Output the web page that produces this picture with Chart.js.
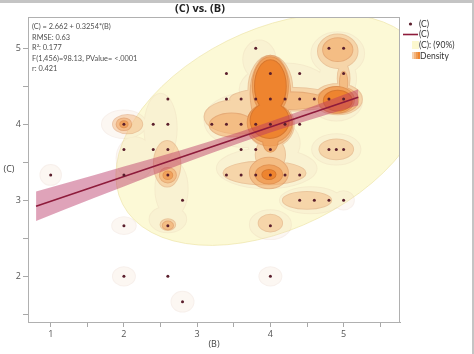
<!DOCTYPE html>
<html>
<head>
<meta charset="utf-8">
<script src="https://cdn.jsdelivr.net/npm/chart.js@4"></script>
<style>
  html, body { margin: 0; padding: 0; background: #fff; }
  #wrap { position: relative; width: 474px; height: 354px; }
</style>
</head>
<body>
<div id="wrap"><canvas id="chart" width="474" height="354"></canvas></div>
<script>
// scatter points, (B) and (C)
const pointsB = [3.8, 4.8, 5,
  3.4, 4, 4.4, 5,
  2.6, 3.4, 3.6, 3.8, 4, 4.2, 4.4, 4.6, 4.8, 5,
  2, 2.4, 2.6, 3.2, 3.4, 3.6, 3.8, 4, 4.2, 4.4,
  2, 2.4, 2.6, 3.6, 3.8, 4, 4.8, 4.9, 5,
  1, 2, 2.6, 3.4, 3.6, 3.8, 4, 4.2, 4.4,
  2.8, 4.4, 4.6, 4.8, 5,
  2, 2.6, 4,
  2, 2.6, 4,
  2.8];
const pointsC = [5, 5, 5,
  4.667, 4.667, 4.667, 4.667,
  4.333, 4.333, 4.333, 4.333, 4.333, 4.333, 4.333, 4.333, 4.333, 4.333,
  4, 4, 4, 4, 4, 4, 4, 4, 4, 4,
  3.667, 3.667, 3.667, 3.667, 3.667, 3.667, 3.667, 3.667, 3.667,
  3.333, 3.333, 3.333, 3.333, 3.333, 3.333, 3.333, 3.333, 3.333,
  3, 3, 3, 3, 3,
  2.667, 2.667, 2.667,
  2, 2, 2,
  1.667];

// linear fit and its confidence band
const fitB = [0.8, 5.2];
const fitC = [2.922, 4.354];
const bandB = [0.8, 1.2, 1.6, 2.0, 2.4, 2.8, 3.2, 3.6, 4.0, 4.4, 4.8, 5.2];
const bandUpper = [3.117, 3.225, 3.333, 3.443, 3.553, 3.665, 3.783, 3.905, 4.036, 4.172, 4.314, 4.459];
const bandLower = [2.727, 2.881, 3.033, 3.183, 3.333, 3.481, 3.623, 3.761, 3.892, 4.016, 4.134, 4.249];

// 90% density ellipse: centre and two conjugate semi-axes (data units)
const ellipseCenter = [4.03, 3.93];
const ellipseAxisA = [2.14, 0.6];
const ellipseAxisB = [0, -1.4];

// density contours, lightest to darkest: [B, C, radiusB, radiusC]
const density1 = [
  [1, 3.333, 0.14, 0.13], [2, 2.667, 0.16, 0.11], [2, 2, 0.15, 0.12], [4, 2, 0.15, 0.12],
  [2.8, 1.667, 0.15, 0.13], [5, 3, 0.14, 0.12], [4.55, 3, 0.42, 0.17], [4, 2.68, 0.28, 0.19],
  [2.0, 4.0, 0.3, 0.18], [2.5, 3.95, 0.22, 0.45], [2.15, 3.55, 0.25, 0.28], [2.65, 3.15, 0.22, 0.38],
  [2.6, 2.75, 0.25, 0.17], [3.65, 4.05, 0.55, 0.35], [4.2, 4.45, 0.62, 0.35], [3.85, 4.85, 0.22, 0.25],
  [4.92, 4.93, 0.36, 0.28], [4.92, 4.6, 0.25, 0.3], [4.9, 4.3, 0.35, 0.25], [3.95, 3.42, 0.68, 0.26],
  [4.05, 3.75, 0.35, 0.3], [4.9, 3.67, 0.33, 0.2]
];
const density2 = [
  [2.05, 4.0, 0.2, 0.12], [2.59, 3.48, 0.18, 0.3], [2.6, 2.68, 0.1, 0.07],
  [3.55, 4.1, 0.45, 0.22], [4.2, 4.33, 0.75, 0.15], [4.0, 4.45, 0.3, 0.45], [4.0, 4.0, 0.32, 0.3],
  [4.92, 4.33, 0.33, 0.2], [5.0, 4.6, 0.08, 0.2], [4.92, 4.96, 0.27, 0.22],
  [3.92, 3.36, 0.56, 0.15], [4.0, 3.6, 0.2, 0.22], [4.5, 3.0, 0.33, 0.11], [4.9, 3.67, 0.23, 0.13],
  [4.0, 2.7, 0.16, 0.11]
];
const density3 = [
  [2.0, 4.0, 0.1, 0.077], [2.6, 3.33, 0.11, 0.095], [2.6, 2.67, 0.07, 0.05],
  [3.47, 3.99, 0.3, 0.15], [4.25, 4.31, 0.5, 0.11], [4.0, 4.4, 0.27, 0.5], [3.99, 4.0, 0.31, 0.28],
  [4.92, 4.32, 0.28, 0.17], [5.0, 4.55, 0.05, 0.14], [4.92, 4.98, 0.2, 0.15],
  [3.98, 3.36, 0.26, 0.2]
];
const density4 = [
  [2.0, 4.0, 0.05, 0.04], [2.6, 3.33, 0.06, 0.05],
  [4.0, 4.5, 0.24, 0.38], [3.99, 4.02, 0.3, 0.26], [4.0, 3.78, 0.1, 0.14],
  [4.9, 4.32, 0.24, 0.17], [3.98, 3.34, 0.18, 0.12]
];
const density5 = [
  [4.0, 4.5, 0.21, 0.34], [3.99, 4.05, 0.26, 0.23], [4.92, 4.31, 0.19, 0.13], [3.98, 3.34, 0.09, 0.06]
];
const densityLevels = [density1, density2, density3, density4, density5];
const levelFill = ['#f0d8c4', '#f4b880', '#f2a866', '#ef8f3f', '#ec7a20'];
const levelLine = ['#dcbba6', '#dc9a68', '#d98a50', '#d77a35', '#d06a20'];
const levelAlpha = [0.22, 0.5, 0.55, 0.6, 0.75];

const xTickVals = [1, 1.5, 2, 2.5, 3, 3.5, 4, 4.5, 5, 5.5];
const yTickVals = [1.5, 2, 2.5, 3, 3.5, 4, 4.5, 5];

const statLines = ['(C) = 2.662 + 0.3254*(B)', 'RMSE: 0.63', 'R²: 0.177', 'F(1,456)=98.13, PValue= <.0001', 'r: 0.421'];

const FONT = '"Open Sans", "Noto Sans", sans-serif';
const SMALL = 'Lato, "Open Sans", sans-serif';

const backdrop = {
  id: 'backdrop',
  beforeDatasetsDraw(chart) {
    const { ctx, chartArea: a, scales: { x, y } } = chart;
    ctx.save();
    ctx.beginPath();
    ctx.rect(a.left, a.top, a.width, a.height);
    ctx.clip();

    // ellipse
    const cx = x.getPixelForValue(ellipseCenter[0]);
    const cy = y.getPixelForValue(ellipseCenter[1]);
    const ax = x.getPixelForValue(ellipseCenter[0] + ellipseAxisA[0]) - cx;
    const ay = y.getPixelForValue(ellipseCenter[1] + ellipseAxisA[1]) - cy;
    const bx = x.getPixelForValue(ellipseCenter[0] + ellipseAxisB[0]) - cx;
    const by = y.getPixelForValue(ellipseCenter[1] + ellipseAxisB[1]) - cy;
    ctx.save();
    ctx.transform(ax, ay, bx, by, cx, cy);
    ctx.beginPath();
    ctx.arc(0, 0, 1, 0, Math.PI * 2);
    ctx.restore();
    ctx.fillStyle = 'rgba(250,244,180,0.55)';
    ctx.fill();
    ctx.strokeStyle = 'rgba(235,225,160,0.6)';
    ctx.lineWidth = 1;
    ctx.stroke();

    // density levels, each one as a union drawn off screen
    const off = document.createElement('canvas');
    off.width = chart.width;
    off.height = chart.height;
    const o = off.getContext('2d');
    const kx = Math.abs(x.getPixelForValue(1) - x.getPixelForValue(0));
    const ky = Math.abs(y.getPixelForValue(1) - y.getPixelForValue(0));
    densityLevels.forEach((blobs, i) => {
      o.clearRect(0, 0, off.width, off.height);
      o.beginPath();
      blobs.forEach(b => {
        const px = x.getPixelForValue(b[0]), py = y.getPixelForValue(b[1]);
        o.moveTo(px + b[2] * kx, py);
        o.ellipse(px, py, b[2] * kx, b[3] * ky, 0, 0, Math.PI * 2);
      });
      o.lineWidth = 2;
      o.strokeStyle = levelLine[i];
      o.stroke();
      o.fillStyle = levelFill[i];
      o.fill();
      ctx.globalAlpha = levelAlpha[i];
      ctx.drawImage(off, 0, 0, chart.width, chart.height);
      ctx.globalAlpha = 1;
    });
    ctx.restore();
  },
  afterDraw(chart) {
    const { ctx, chartArea: a } = chart;
    ctx.save();
    // plot frame
    ctx.strokeStyle = '#b0b0b0';
    ctx.lineWidth = 1;
    ctx.strokeRect(a.left + 0.5, a.top + 0.5, a.width - 1, a.height);

    ctx.fillStyle = '#222';
    ctx.font = 'bold 11px ' + FONT;
    ctx.textAlign = 'center';
    ctx.textBaseline = 'middle';
    ctx.fillText('(C) vs. (B)', 200, 9);

    ctx.font = '9px ' + FONT;
    ctx.fillStyle = '#444';
    ctx.fillText('(B)', (a.left + a.right) / 2, 344);
    ctx.fillText('(C)', 9, (a.top + a.bottom) / 2);

    // statistics
    ctx.textAlign = 'left';
    ctx.font = '7.4px ' + SMALL;
    ctx.fillStyle = '#505050';
    statLines.forEach((s, i) => ctx.fillText(s, 32, 26.7 + i * 10.5));

    // legend
    ctx.font = '8.5px ' + SMALL;
    ctx.fillStyle = '#5a1e2c';
    ctx.beginPath();
    ctx.arc(410.5, 24, 1.6, 0, Math.PI * 2);
    ctx.fill();
    ctx.strokeStyle = '#8e1b3b';
    ctx.lineWidth = 1.6;
    ctx.beginPath();
    ctx.moveTo(403, 34.5);
    ctx.lineTo(418, 34.5);
    ctx.stroke();
    ctx.fillStyle = '#fcf8cf';
    ctx.fillRect(412, 41, 7, 8);
    const sw = ['#f6d2b0', '#f3b47c', '#f09a50', '#ee8530'];
    sw.forEach((c, i) => { ctx.fillStyle = c; ctx.fillRect(412 + i * 2, 52, 2, 7); });
    ctx.fillStyle = '#333';
    ctx.fillText('(C)', 419, 24);
    ctx.fillText('(C)', 419, 34.5);
    ctx.fillText('(C): (90%)', 419, 45);
    ctx.fillText('Density', 420, 56);

    // window border
    ctx.fillStyle = '#c4c4c4';
    ctx.fillRect(0, 0, chart.width, 3);
    ctx.fillRect(chart.width - 2, 0, 2, chart.height);
    ctx.restore();
  }
};

new Chart(document.getElementById('chart').getContext('2d'), {
  type: 'scatter',
  data: {
    datasets: [
      {
        label: '(C)',
        data: pointsB.map((b, i) => ({ x: b, y: pointsC[i] })),
        pointRadius: 1.5,
        pointBackgroundColor: '#5a1e2c',
        pointBorderWidth: 0
      },
      {
        type: 'line',
        label: 'fit',
        data: fitB.map((b, i) => ({ x: b, y: fitC[i] })),
        borderColor: '#8e1b3b',
        borderWidth: 1.6,
        pointRadius: 0,
        fill: false
      },
      {
        type: 'line',
        label: 'upper',
        data: bandB.map((b, i) => ({ x: b, y: bandUpper[i] })),
        borderWidth: 0,
        borderColor: 'rgba(0,0,0,0)',
        pointRadius: 0,
        fill: false
      },
      {
        type: 'line',
        label: 'lower',
        data: bandB.map((b, i) => ({ x: b, y: bandLower[i] })),
        borderWidth: 0,
        borderColor: 'rgba(0,0,0,0)',
        pointRadius: 0,
        fill: '-1',
        backgroundColor: 'rgba(185,50,100,0.45)'
      }
    ]
  },
  options: {
    responsive: false,
    animation: false,
    events: [],
    layout: { padding: { top: 17, right: 74, left: 0, bottom: 0 } },
    plugins: { legend: { display: false }, tooltip: { enabled: false } },
    scales: {
      x: {
        type: 'linear',
        min: 0.69,
        max: 5.77,
        afterBuildTicks: s => { s.ticks = xTickVals.map(v => ({ value: v })); },
        afterFit: s => { s.height = 32; },
        ticks: {
          callback: v => Number.isInteger(v) ? String(v) : '',
          autoSkip: false, maxRotation: 0, padding: 2,
          color: '#555', font: { family: FONT, size: 9 }
        },
        grid: { drawOnChartArea: false, tickLength: 5, color: '#a8a8a8' },
        border: { color: '#a8a8a8' }
      },
      y: {
        type: 'linear',
        min: 1.4,
        max: 5.41,
        afterBuildTicks: s => { s.ticks = yTickVals.map(v => ({ value: v })); },
        afterFit: s => { s.width = 28; },
        ticks: {
          callback: v => Number.isInteger(v) ? String(v) : '',
          autoSkip: false, padding: 2,
          color: '#555', font: { family: FONT, size: 9 }
        },
        grid: { drawOnChartArea: false, tickLength: 5, color: '#a8a8a8' },
        border: { color: '#a8a8a8' }
      }
    }
  },
  plugins: [backdrop]
});
</script>
</body>
</html>
